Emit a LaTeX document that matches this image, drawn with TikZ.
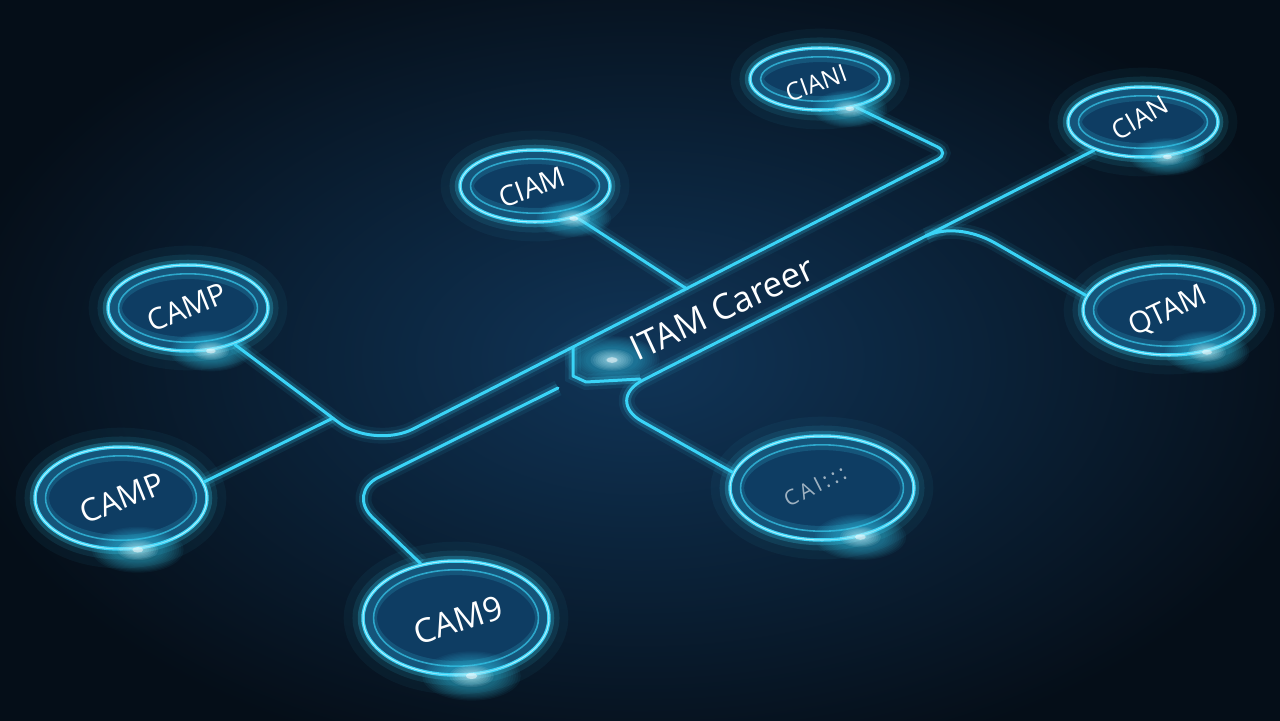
\documentclass[tikz,border=0pt]{standalone}
\usepackage{fontspec}
\setmainfont{Open Sans}
\usetikzlibrary{shapes.geometric,calc}
\definecolor{bgin}{HTML}{103558}
\definecolor{bgout}{HTML}{050E18}
\definecolor{neon}{HTML}{3AD4F7}
\definecolor{neonlight}{HTML}{C8F6FF}
\definecolor{bubfill}{HTML}{0E3D63}
\newcommand\glowspot[2]{%
  \foreach \rr in {1,0.95,...,0.5}{%
    \fill[neon, opacity=0.05] (#1) ellipse [x radius=#2*\rr*1.7, y radius=#2*\rr*0.85];}%
  \foreach \rr in {0.45,0.4,...,0.04}{%
    \fill[neonlight, opacity=0.1] (#1) ellipse [x radius=#2*\rr*1.7, y radius=#2*\rr*0.85];}%
  \fill[white, opacity=0.5] (#1) ellipse [x radius=#2*0.12*1.7, y radius=#2*0.12*0.85];}
\tikzset{
  glowline/.style={draw=neon, line width=1.7pt, line cap=round, line join=round,
    preaction={draw=neon, line width=9pt, opacity=0.08},
    preaction={draw=neon, line width=5pt, opacity=0.2}},
  bubble/.style={ellipse, draw=neon, line width=2pt, fill=bubfill, inner sep=0pt,
    preaction={draw=neon, line width=22pt, opacity=0.05},
    preaction={draw=neon, line width=12pt, opacity=0.1},
    preaction={draw=neon, line width=6pt, opacity=0.25},
    postaction={draw=neonlight, line width=0.6pt, opacity=0.8},
    path picture={
      \draw[neon, line width=16pt, opacity=0.16] let \p0=(path picture bounding box.center), \p1=(path picture bounding box.north east) in (\p0) ellipse [x radius={\x1-\x0}, y radius={\y1-\y0}];
      \draw[neon, line width=0.9pt, opacity=0.65] let \p0=(path picture bounding box.center), \p1=(path picture bounding box.north east) in (\p0) ellipse [x radius={\x1-\x0-6pt}, y radius={\y1-\y0-5pt}];
    }},
  lbl/.style={text=white, inner sep=0pt},
}
\begin{document}
\begin{tikzpicture}[x=0.02cm,y=-0.02cm]
\useasboundingbox (0,0) rectangle (1280,720);
\shade[inner color=bgin, outer color=bgout] (-60,-60) rectangle (1340,780);

% bubbles
\node[bubble, minimum width=2.8cm,  minimum height=1.24cm] (ciani) at (820,79) {};
\node[bubble, minimum width=3.0cm,  minimum height=1.4cm]  (cian)  at (1143,122) {};
\node[bubble, minimum width=3.0cm,  minimum height=1.44cm] (ciam)  at (535,186) {};
\node[bubble, minimum width=3.2cm,  minimum height=1.72cm] (campA) at (188,308) {};
\node[bubble, minimum width=3.44cm, minimum height=2.04cm] (campB) at (121,498) {};
\node[bubble, minimum width=3.72cm, minimum height=2.28cm] (cam9)  at (456,618) {};
\node[bubble, minimum width=3.68cm, minimum height=2.08cm] (cai)   at (822,488) {};
\node[bubble, minimum width=3.44cm, minimum height=1.8cm]  (qtam)  at (1169,310) {};

% junction coordinates
\coordinate (j1) at (333,418);
\coordinate (ptl) at (573,347);
\coordinate (j2) at (687,289);
\coordinate (b1) at (926,236);
\coordinate (c1) at (558,388);

% connectors
\draw[glowline] (campA.-38) {[rounded corners=25pt] -- (374,449) -- (ptl)} {[rounded corners=8pt] -- (950,153) -- (ciani.-38)};
\draw[glowline] (campB.11) -- (j1);
\draw[glowline] (ciam.-37) -- (j2);
\draw[glowline] (cian.210) {[rounded corners=25pt] -- (604,400) -- (cai.170)};
\draw[glowline] (b1) .. controls (945,227) and (972,230) .. (995,243) -- (qtam.170);
\draw[glowline] (c1) {[rounded corners=20pt] -- (347,493) -- (cam9.123)};
\draw[glowline] (ptl) -- (573,376) -- (586,382) -- (640,379);
\glowspot{612,360}{28}

% labels
\node[lbl, rotate=25, font=\fontsize{20}{20}\selectfont] (title) at (722,308) {ITAM Career};
\node[lbl, rotate=20, font=\fontsize{14}{14}\selectfont] at (816,83) {CIANI};
\node[lbl, rotate=30, font=\fontsize{15}{15}\selectfont] at (1140,118) {CIAN};
\node[lbl, rotate=20, font=\fontsize{16}{16}\selectfont] at (532,187) {CIAM};
\node[lbl, rotate=22, font=\fontsize{17}{17}\selectfont] at (187,307) {CAMP};
\node[lbl, rotate=22, font=\fontsize{18}{18}\selectfont] at (122,498) {CAMP};
\node[lbl, rotate=18, font=\fontsize{19}{19}\selectfont] at (458,620) {CAM9};
\node[lbl, rotate=25, font=\fontsize{17}{17}\selectfont] at (1168,312) {QTAM};
\node[lbl, rotate=27, opacity=0.6, font=\fontsize{12}{12}\selectfont] at (815,486) {C\,A\,I\,:\,:\,:};

% bright spots on rings
\glowspot{ciani.-45}{22}
\glowspot{cian.-55}{22}
\glowspot{ciam.-40}{22}
\glowspot{campA.-62}{24}
\glowspot{campB.-72}{27}
\glowspot{cam9.-75}{29}
\glowspot{cai.-52}{27}
\glowspot{qtam.-48}{25}
\end{tikzpicture}
\end{document}
